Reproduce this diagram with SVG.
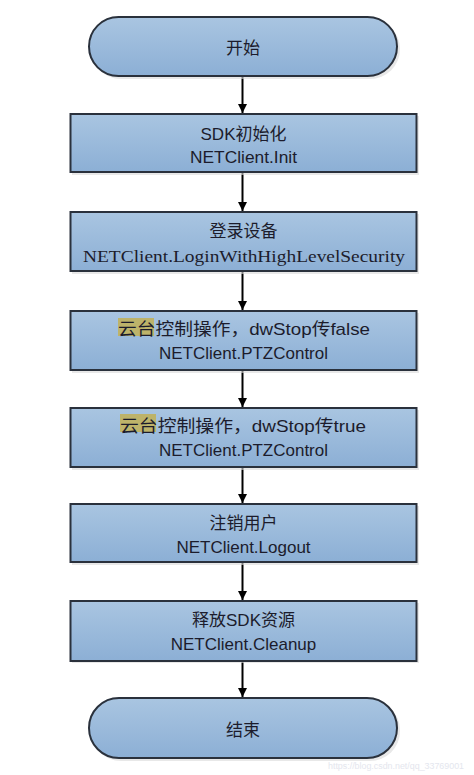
<svg xmlns="http://www.w3.org/2000/svg" width="474" height="775" viewBox="0 0 474 775">
<defs>
<linearGradient id="g" x1="0" y1="0" x2="0" y2="1">
<stop offset="0" stop-color="#a9c5e1"/>
<stop offset="1" stop-color="#8cafd5"/>
</linearGradient>
<marker id="a" markerWidth="9" markerHeight="11" refX="9" refY="4.5" orient="auto" markerUnits="userSpaceOnUse">
<path d="M0,0 L9,4.5 L0,9 Z" fill="#000"/>
</marker>
</defs>
<style>
.n{fill:url(#g);stroke:#2a313c;stroke-width:2}
.sh{fill:#d8d8d8;opacity:0.6}
.t{font-family:"Liberation Sans","Noto Sans CJK SC",sans-serif;font-size:17px;fill:#1c1c2c;text-anchor:middle}
.s{font-family:"Liberation Serif","Noto Sans CJK SC",serif}
.hl{fill:#bdb36a}
.c{stroke:#000;stroke-width:2;fill:none;marker-end:url(#a)}
</style>
<g id="connectors">
<line class="c" x1="242.5" y1="77" x2="242.5" y2="113"/>
<line class="c" x1="242.5" y1="173" x2="242.5" y2="211"/>
<line class="c" x1="242.5" y1="272" x2="242.5" y2="310"/>
<line class="c" x1="242.5" y1="371" x2="242.5" y2="407"/>
<line class="c" x1="242.5" y1="468" x2="242.5" y2="503"/>
<line class="c" x1="242.5" y1="563" x2="242.5" y2="600"/>
<line class="c" x1="242.5" y1="662" x2="242.5" y2="697"/>
</g>
<g id="start">
<rect class="sh" x="91" y="19" width="309" height="60" rx="30"/>
<rect class="n" x="89" y="17" width="308" height="59" rx="29.5"/>
<text class="t" x="243" y="54" font-size="18">开始</text>
</g>
<g id="init">
<rect class="sh" x="72" y="116" width="347" height="59"/>
<rect class="n" x="70.5" y="114" width="346" height="58"/>
<text class="t" x="243.5" y="140">SDK初始化</text>
<text class="t" x="243.5" y="163" textLength="107" lengthAdjust="spacingAndGlyphs">NETClient.Init</text>
</g>
<g id="login">
<rect class="sh" x="72" y="214" width="347" height="60"/>
<rect class="n" x="70.5" y="212" width="346" height="59"/>
<text class="t" x="243.5" y="237">登录设备</text>
<text class="t s" x="244" y="262" textLength="322" lengthAdjust="spacingAndGlyphs">NETClient.LoginWithHighLevelSecurity</text>
</g>
<g id="ptz-false">
<rect class="sh" x="72" y="313" width="347" height="60"/>
<rect class="n" x="70.5" y="311" width="346" height="59"/>
<rect class="hl" x="118" y="318" width="36" height="18"/>
<text class="t" x="244" y="335" textLength="252" lengthAdjust="spacingAndGlyphs">云台控制操作，dwStop传false</text>
<text class="t" x="243.5" y="359" textLength="169" lengthAdjust="spacingAndGlyphs">NETClient.PTZControl</text>
</g>
<g id="ptz-true">
<rect class="sh" x="72" y="410" width="347" height="60"/>
<rect class="n" x="70.5" y="408" width="346" height="59"/>
<rect class="hl" x="120" y="414" width="36" height="18"/>
<text class="t" x="243" y="432" textLength="246" lengthAdjust="spacingAndGlyphs">云台控制操作，dwStop传true</text>
<text class="t" x="243.5" y="456" textLength="169" lengthAdjust="spacingAndGlyphs">NETClient.PTZControl</text>
</g>
<g id="logout">
<rect class="sh" x="72" y="506" width="347" height="59"/>
<rect class="n" x="70.5" y="504" width="346" height="58"/>
<text class="t" x="243.5" y="529">注销用户</text>
<text class="t" x="243.5" y="553">NETClient.Logout</text>
</g>
<g id="cleanup">
<rect class="sh" x="72" y="603" width="347" height="60"/>
<rect class="n" x="70.5" y="601" width="346" height="60"/>
<text class="t" x="243.5" y="626">释放SDK资源</text>
<text class="t" x="243.5" y="650">NETClient.Cleanup</text>
</g>
<g id="end">
<rect class="sh" x="91" y="700" width="309" height="61" rx="30"/>
<rect class="n" x="89" y="698" width="308" height="60" rx="30"/>
<text class="t" x="243" y="736" font-size="18">结束</text>
</g>
<text x="328" y="769" font-family="Liberation Sans,sans-serif" font-size="8.5" fill="#e4e6ee" textLength="136" lengthAdjust="spacingAndGlyphs">https://blog.csdn.net/qq_33769001</text>
</svg>
